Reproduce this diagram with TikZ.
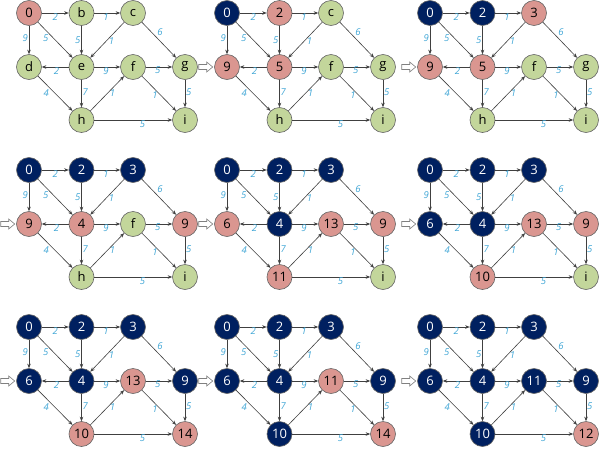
\documentclass[tikz,border=0pt]{standalone}
\usepackage{fontspec}
\setmainfont{Open Sans}
\usetikzlibrary{arrows.meta}
\definecolor{navy}{HTML}{002060}
\definecolor{pinkc}{HTML}{DA9690}
\definecolor{greenc}{HTML}{C3D69B}
\definecolor{wcol}{HTML}{3FA6D6}
\definecolor{edgec}{HTML}{404040}
\tikzset{
  basenode/.style={circle,draw=edgec!80,line width=0.6pt,minimum size=25pt,inner sep=0pt,
    font=\fontsize{13}{13}\selectfont},
  vnode/.style={basenode,fill=navy,text=white},
  rnode/.style={basenode,fill=pinkc,text=black},
  gnode/.style={basenode,fill=greenc,text=black},
  edg/.style={draw=edgec,line width=0.6pt,-{Stealth[length=4.5pt,width=3.5pt]}},
  w/.style={font=\fontsize{9.5}{9.5}\selectfont\itshape,text=wcol,inner sep=0.8pt},
  harrow/.style={draw=gray,fill=white,line width=0.6pt}
}
\newcommand\panel[4]{%
\begin{scope}[shift={(#1,#2)}]
  \coordinate (P1) at (29,13);
  \coordinate (P2) at (81.5,13);
  \coordinate (P3) at (133,13);
  \coordinate (P4) at (29,67);
  \coordinate (P5) at (81.5,67);
  \coordinate (P6) at (133,67);
  \coordinate (P7) at (185,67);
  \coordinate (P8) at (81.5,120);
  \coordinate (P9) at (185,120);
  \foreach \st/\lb [count=\k] in {#4} {\node[\st] (#3\k) at (P\k) {\lb};}
  \draw[edg] (#31) -- node[w,below,pos=.5] {2} (#32);
  \draw[edg] (#32) -- node[w,below,pos=.45] {1} (#33);
  \draw[edg] (#31) -- node[w,left,pos=.45] {9} (#34);
  \draw[edg] (#31) -- node[w,below left,pos=.33] {5} (#35);
  \draw[edg] (#32) -- node[w,left,pos=.5] {5} (#35);
  \draw[edg] (#33) -- node[w,right=1.5pt,pos=.53] {1} (#35);
  \draw[edg] (#33) -- node[w,above right,pos=.42] {6} (#37);
  \draw[edg] (#35) -- node[w,below,pos=.45] {2} (#34);
  \draw[edg] (#35) -- node[w,below,pos=.45] {9} (#36);
  \draw[edg] (#36) -- node[w,pos=.45,yshift=-3pt] {5} (#37);
  \draw[edg] (#34) -- node[w,below left,pos=.35] {4} (#38);
  \draw[edg] (#35) -- node[w,right,pos=.45] {7} (#38);
  \draw[edg] (#38) -- node[w,right=1.5pt,pos=.5] {1} (#36);
  \draw[edg] (#36) -- node[w,left=2pt,pos=.55] {1} (#39);
  \draw[edg] (#37) -- node[w,right,pos=.45] {5} (#39);
  \draw[edg] (#38) -- node[w,below,pos=.62] {5} (#39);
\end{scope}}
\newcommand\hollowarrow[1]{%
  \coordinate (#1t) at ([xshift=-1.5pt]#1.west);
  \draw[harrow] (#1t) -- ++(-6,-5) -- ++(0,2.5) -- ++(-8,0) -- ++(0,5) -- ++(8,0) -- ++(0,2.5) -- cycle;}
\begin{document}
\begin{tikzpicture}[x=1pt,y=-1pt]
\useasboundingbox[fill=white] (0,0) rectangle (600,450);
\panel{0}{0}{A}{rnode/0,gnode/b,gnode/c,gnode/d,gnode/e,gnode/f,gnode/g,gnode/h,gnode/i}
\panel{198}{0}{B}{vnode/0,rnode/2,gnode/c,rnode/9,rnode/5,gnode/f,gnode/g,gnode/h,gnode/i}
\panel{401}{0}{C}{vnode/0,vnode/2,rnode/3,rnode/9,rnode/5,gnode/f,gnode/g,gnode/h,gnode/i}
\panel{0}{157}{D}{vnode/0,vnode/2,vnode/3,rnode/9,rnode/4,gnode/f,rnode/9,gnode/h,gnode/i}
\panel{198}{157}{E}{vnode/0,vnode/2,vnode/3,rnode/6,vnode/4,rnode/13,rnode/9,rnode/11,gnode/i}
\panel{401}{157}{F}{vnode/0,vnode/2,vnode/3,vnode/6,vnode/4,rnode/13,rnode/9,rnode/10,gnode/i}
\panel{0}{314}{G}{vnode/0,vnode/2,vnode/3,vnode/6,vnode/4,rnode/13,vnode/9,rnode/10,rnode/14}
\panel{198}{314}{H}{vnode/0,vnode/2,vnode/3,vnode/6,vnode/4,rnode/11,vnode/9,vnode/10,rnode/14}
\panel{401}{314}{I}{vnode/0,vnode/2,vnode/3,vnode/6,vnode/4,vnode/11,vnode/9,vnode/10,rnode/12}
\hollowarrow{B4}
\hollowarrow{C4}
\hollowarrow{D4}
\hollowarrow{E4}
\hollowarrow{F4}
\hollowarrow{G4}
\hollowarrow{H4}
\hollowarrow{I4}
\end{tikzpicture}
\end{document}
